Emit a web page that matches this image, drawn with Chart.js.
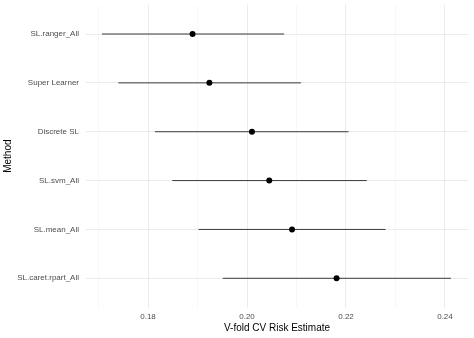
<!DOCTYPE html>
<html>
<head>
<meta charset="utf-8">
<script src="https://cdn.jsdelivr.net/npm/chart.js@4/dist/chart.umd.min.js"></script>
<style>
html,body{margin:0;padding:0;background:#fff;}
canvas{display:block;}
</style>
</head>
<body>
<canvas id="c" width="474" height="338"></canvas>
<script>
const methods = ['SL.ranger_All','Super Learner','Discrete SL','SL.svm_All','SL.mean_All','SL.caret.rpart_All'];
const estimates = [0.1890, 0.1924, 0.2010, 0.2045, 0.2091, 0.2181];
const lower = [0.1707, 0.1740, 0.1814, 0.1849, 0.1902, 0.1951];
const upper = [0.2075, 0.2109, 0.2205, 0.2242, 0.2280, 0.2412];
const xTicks = [0.17, 0.18, 0.19, 0.20, 0.21, 0.22, 0.23, 0.24];
const xMajor = [0.18, 0.20, 0.22, 0.24];

const isMajor = v => xMajor.some(m => Math.abs(m - v) < 1e-9);

const errDatasets = methods.map((m, i) => ({
  type: 'scatter',
  data: [{x: lower[i], y: i + 1}, {x: upper[i], y: i + 1}],
  showLine: true,
  borderColor: '#3a3a3a',
  borderWidth: 1,
  pointRadius: 0,
  order: 2
}));

const pointDataset = {
  type: 'scatter',
  data: methods.map((m, i) => ({x: estimates[i], y: i + 1})),
  pointRadius: 3,
  pointBackgroundColor: '#000',
  pointBorderColor: '#000',
  pointBorderWidth: 0,
  order: 0
};

new Chart(document.getElementById('c'), {
  type: 'scatter',
  data: { datasets: [pointDataset, ...errDatasets] },
  options: {
    responsive: false,
    animation: false,
    devicePixelRatio: 1,
    layout: { padding: { top: 4.7, right: 6, left: 0, bottom: 0 } },
    plugins: { legend: { display: false }, tooltip: { enabled: false } },
    scales: {
      x: {
        type: 'linear',
        min: 0.16747,
        max: 0.24465,
        afterBuildTicks: s => { s.ticks = xTicks.map(v => ({value: v})); },
        afterFit: s => { s.height = 30.4; s.paddingLeft = 0; s.paddingRight = 0; },
        border: { display: false },
        grid: {
          drawTicks: false,
          color: ctx => (ctx.tick && isMajor(ctx.tick.value)) ? '#ebebeb' : '#f5f5f5',
          lineWidth: ctx => (ctx.tick && isMajor(ctx.tick.value)) ? 1 : 0.7
        },
        ticks: {
          padding: 4,
          color: '#4d4d4d',
          font: { family: 'Liberation Sans, Arial, sans-serif', size: 8 },
          maxRotation: 0,
          autoSkip: false,
          callback: v => isMajor(v) ? v.toFixed(2) : ''
        },
        title: {
          display: true,
          text: 'V-fold CV Risk Estimate',
          color: '#000',
          font: { family: 'Liberation Sans, Arial, sans-serif', size: 10 },
          padding: { top: 0, bottom: 4 }
        }
      },
      y: {
        type: 'linear',
        min: 0.4,
        max: 6.6,
        reverse: true,
        afterBuildTicks: s => { s.ticks = methods.map((m, i) => ({value: i + 1})); },
        afterFit: s => { s.width = 86; s.paddingTop = 0; s.paddingBottom = 0; },
        border: { display: false },
        grid: { drawTicks: false, color: '#ebebeb', lineWidth: 1 },
        ticks: {
          padding: 7,
          color: '#4d4d4d',
          font: { family: 'Liberation Sans, Arial, sans-serif', size: 8 },
          autoSkip: false,
          callback: v => methods[Math.round(v) - 1] || ''
        },
        title: {
          display: true,
          text: 'Method',
          color: '#000',
          font: { family: 'Liberation Sans, Arial, sans-serif', size: 10 },
          padding: { top: 2, bottom: 0 }
        }
      }
    }
  }
});
</script>
</body>
</html>
